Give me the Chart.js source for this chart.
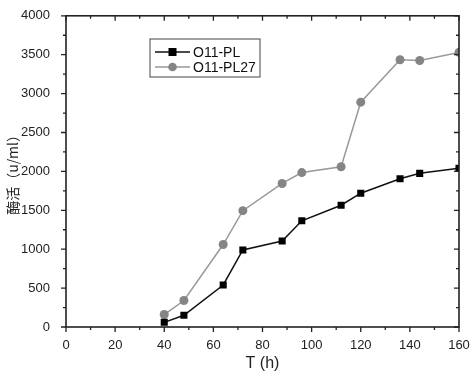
<!DOCTYPE html>
<html lang="zh">
<head>
    <meta charset="UTF-8">
    <title>酶活 vs T</title>
    <script src="https://cdn.jsdelivr.net/npm/chart.js"></script>
    <style>
        body {
            margin: 0;
            padding: 0;
            background: #fff;
        }
        .chart-container {
            width: 474px;
            height: 377px;
            position: relative;
        }
    </style>
</head>
<body>
    <div class="chart-container">
        <canvas id="lineChart"></canvas>
    </div>

    <script>
        // data
        const hours = [40, 48, 64, 72, 88, 96, 112, 120, 136, 144, 160];
        const pl = [60, 150, 540, 990, 1105, 1365, 1565, 1720, 1905, 1975, 2040];
        const pl27 = [160, 340, 1060, 1495, 1845, 1985, 2060, 2890, 3435, 3425, 3530];
        const seriesNames = ['O11-PL', 'O11-PL27'];
        const xTicks = [0, 20, 40, 60, 80, 100, 120, 140, 160];
        const yTicks = [0, 500, 1000, 1500, 2000, 2500, 3000, 3500, 4000];

        const axisColor = '#222';

        // box, tick marks and the legend, drawn like the original plot
        const framePlugin = {
            id: 'frame',
            afterDraw(chart) {
                const ctx = chart.ctx;
                const a = chart.chartArea;
                const xs = chart.scales.x;
                const ys = chart.scales.y;
                ctx.save();
                ctx.strokeStyle = axisColor;
                ctx.lineWidth = 1.6;
                ctx.strokeRect(a.left, a.top, a.right - a.left, a.bottom - a.top);

                ctx.lineWidth = 1.3;
                ctx.beginPath();
                for (let v = 0; v <= 160; v += 10) {
                    const px = xs.getPixelForValue(v);
                    const major = v % 20 === 0;
                    const len = major ? 5 : 3;
                    ctx.moveTo(px, a.bottom); ctx.lineTo(px, a.bottom + len);
                    ctx.moveTo(px, a.top); ctx.lineTo(px, a.top + len);
                }
                for (let v = 0; v <= 4000; v += 250) {
                    const py = ys.getPixelForValue(v);
                    const major = v % 500 === 0;
                    const len = major ? 5 : 3;
                    ctx.moveTo(a.left, py); ctx.lineTo(a.left - len, py);
                    ctx.moveTo(a.right, py); ctx.lineTo(a.right - len, py);
                }
                ctx.stroke();

                // legend box
                const lx = 150, ly = 39, lw = 110, lh = 38;
                ctx.lineWidth = 1;
                ctx.strokeStyle = '#444';
                ctx.strokeRect(lx, ly, lw, lh);
                ctx.font = '14px "Liberation Sans", Arial, sans-serif';
                ctx.textBaseline = 'middle';
                chart.data.datasets.forEach((ds, i) => {
                    const cy = ly + 13 + i * 15;
                    ctx.strokeStyle = ds.borderColor;
                    ctx.lineWidth = ds.borderWidth;
                    ctx.beginPath();
                    ctx.moveTo(155, cy); ctx.lineTo(190, cy);
                    ctx.stroke();
                    ctx.fillStyle = ds.pointBackgroundColor;
                    if (ds.pointStyle === 'rect') {
                        ctx.fillRect(172.5 - 4, cy - 4, 8, 8);
                    } else {
                        ctx.beginPath();
                        ctx.arc(172.5, cy, 4.3, 0, Math.PI * 2);
                        ctx.fill();
                    }
                    ctx.fillStyle = '#111';
                    ctx.fillText(ds.label, 193, cy + 1);
                });
                ctx.restore();
            }
        };

        const ctx = document.getElementById('lineChart').getContext('2d');

        new Chart(ctx, {
            type: 'line',
            data: {
                datasets: [
                    {
                        label: seriesNames[0],
                        data: hours.map((h, i) => ({ x: h, y: pl[i] })),
                        borderColor: '#111',
                        borderWidth: 1.5,
                        pointStyle: 'rect',
                        pointRadius: 5,
                        pointBackgroundColor: '#000',
                        pointBorderColor: '#000',
                        pointBorderWidth: 0
                    },
                    {
                        label: seriesNames[1],
                        data: hours.map((h, i) => ({ x: h, y: pl27[i] })),
                        borderColor: '#999',
                        borderWidth: 1.5,
                        pointStyle: 'circle',
                        pointRadius: 4.5,
                        pointBackgroundColor: '#858585',
                        pointBorderColor: '#858585',
                        pointBorderWidth: 0
                    }
                ]
            },
            options: {
                responsive: true,
                maintainAspectRatio: false,
                animation: false,
                layout: { padding: { top: 8, right: 15, left: 0, bottom: 0 } },
                plugins: {
                    legend: { display: false },
                    tooltip: { enabled: false }
                },
                scales: {
                    x: {
                        type: 'linear',
                        min: 0,
                        max: 160,
                        afterBuildTicks: scale => { scale.ticks = xTicks.map(v => ({ value: v })); },
                        afterFit: scale => { scale.height = 50; },
                        grid: { display: false },
                        border: { display: false },
                        ticks: {
                            color: '#222',
                            padding: 3,
                            callback: v => String(v),
                            font: { family: '"Liberation Sans", Arial, sans-serif', size: 13 }
                        },
                        title: {
                            display: true,
                            text: 'T (h)',
                            color: '#222',
                            padding: { top: 6 },
                            font: { family: '"Liberation Sans", Arial, sans-serif', size: 16 }
                        }
                    },
                    y: {
                        min: 0,
                        max: 4000,
                        afterBuildTicks: scale => { scale.ticks = yTicks.map(v => ({ value: v })); },
                        afterFit: scale => { scale.width = 66; },
                        grid: { display: false },
                        border: { display: false },
                        ticks: {
                            color: '#222',
                            padding: 8,
                            callback: v => String(v),
                            font: { family: '"Liberation Sans", Arial, sans-serif', size: 13 }
                        },
                        title: {
                            display: true,
                            text: '酶活（u/ml）',
                            color: '#222',
                            padding: { bottom: 2 },
                            font: { family: '"Noto Sans CJK SC", sans-serif', size: 14 }
                        }
                    }
                }
            },
            plugins: [framePlugin]
        });
    </script>
</body>
</html>
